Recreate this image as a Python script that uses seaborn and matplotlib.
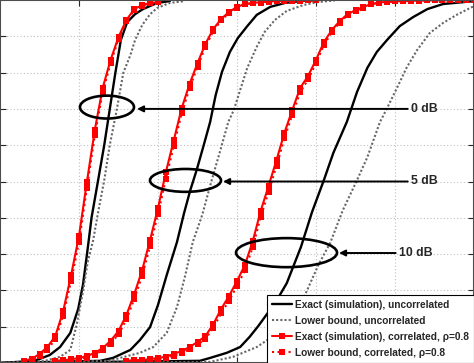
import numpy as np
import matplotlib
matplotlib.use("Agg")
import matplotlib.pyplot as plt
import seaborn as sns
from matplotlib.patches import Ellipse
from matplotlib.lines import Line2D

# ---- data (x in grid units 0..6, y is probability 0..1) ----
# exact (simulation), uncorrelated - black solid
ex_unc_0_x = [0.0, 0.44, 0.63, 0.76, 0.89, 0.99, 1.05, 1.10, 1.16, 1.24, 1.32, 1.39, 1.46, 1.53, 1.61, 1.71, 1.81, 1.99, 2.15]
ex_unc_0_y = [0.0, 0.006, 0.022, 0.044, 0.083, 0.149, 0.215, 0.298, 0.402, 0.501, 0.601, 0.700, 0.799, 0.890, 0.939, 0.961, 0.975, 0.992, 0.997]
ex_unc_5_x = [0.0, 1.27, 1.43, 1.65, 1.77, 1.90, 2.00, 2.11, 2.24, 2.33, 2.41, 2.49, 2.58, 2.66, 2.73, 2.81, 2.91, 3.01, 3.13, 3.25, 3.42, 3.61, 3.80, 4.05]
ex_unc_5_y = [0.0, 0.006, 0.014, 0.036, 0.063, 0.099, 0.160, 0.242, 0.333, 0.413, 0.477, 0.532, 0.601, 0.664, 0.738, 0.802, 0.857, 0.895, 0.928, 0.959, 0.981, 0.992, 0.997, 1.0]
ex_unc_10_x = [0.0, 2.53, 2.66, 2.87, 3.04, 3.16, 3.27, 3.39, 3.52, 3.63, 3.81, 3.95, 4.10, 4.22, 4.39, 4.52, 4.65, 4.77, 4.90, 5.06, 5.23, 5.41, 5.61, 5.86, 6.0]
ex_unc_10_y = [0.0, 0.006, 0.014, 0.028, 0.044, 0.072, 0.102, 0.138, 0.179, 0.220, 0.320, 0.416, 0.504, 0.579, 0.664, 0.747, 0.813, 0.857, 0.890, 0.928, 0.953, 0.975, 0.989, 0.994, 0.997]

# lower bound, uncorrelated - black dotted
lb_unc_0_x = [0.0, 0.57, 0.76, 0.89, 0.97, 1.05, 1.11, 1.18, 1.24, 1.32, 1.39, 1.48, 1.56, 1.65, 1.71, 1.80, 1.90, 1.99, 2.15, 2.34]
lb_unc_0_y = [0.0, 0.006, 0.017, 0.036, 0.105, 0.196, 0.278, 0.339, 0.413, 0.504, 0.601, 0.700, 0.799, 0.848, 0.890, 0.931, 0.961, 0.978, 0.992, 0.997]
lb_unc_5_x = [0.0, 1.39, 1.52, 1.77, 1.94, 2.11, 2.24, 2.34, 2.44, 2.56, 2.68, 2.78, 2.89, 2.96, 3.04, 3.13, 3.25, 3.35, 3.48, 3.63, 3.84, 4.01, 4.24]
lb_unc_5_y = [0.0, 0.006, 0.014, 0.028, 0.044, 0.083, 0.154, 0.237, 0.333, 0.408, 0.504, 0.579, 0.664, 0.697, 0.752, 0.813, 0.871, 0.912, 0.945, 0.970, 0.986, 0.994, 0.999]
lb_unc_10_x = [0.0, 2.66, 2.95, 3.25, 3.48, 3.67, 3.86, 4.03, 4.18, 4.34, 4.52, 4.65, 4.81, 4.90, 5.03, 5.15, 5.28, 5.44, 5.61, 5.78, 5.95, 6.0]
lb_unc_10_y = [0.0, 0.003, 0.017, 0.044, 0.077, 0.124, 0.187, 0.270, 0.331, 0.421, 0.504, 0.567, 0.664, 0.702, 0.760, 0.815, 0.862, 0.909, 0.937, 0.959, 0.978, 0.983]

# correlated (rho = 0.8) curves, sampled every 0.1
cor_0_x = np.round(np.arange(0.3, 2.0001, 0.1), 1)
ex_cor_0_y = [0.006, 0.011, 0.025, 0.044, 0.074, 0.143, 0.242, 0.350, 0.499, 0.642, 0.758, 0.835, 0.898, 0.945, 0.975, 0.986, 0.992, 0.994]
lb_cor_0_y = [0.004, 0.008, 0.020, 0.037, 0.065, 0.130, 0.226, 0.333, 0.482, 0.627, 0.746, 0.826, 0.892, 0.941, 0.972, 0.984, 0.991, 0.994]

cor_5_x = np.round(np.arange(0.7, 4.0001, 0.1), 1)
ex_cor_5_y = [0.006, 0.008, 0.010, 0.014, 0.019, 0.028, 0.041, 0.061, 0.088, 0.132, 0.190, 0.256, 0.339, 0.427,
              0.526, 0.614, 0.702, 0.769, 0.826, 0.879, 0.920, 0.948, 0.967, 0.981, 0.989, 0.992, 0.994, 0.996,
              0.997, 0.998, 0.998, 0.999, 0.999, 1.0]
lb_cor_5_y = [0.004, 0.006, 0.008, 0.011, 0.015, 0.023, 0.035, 0.053, 0.079, 0.120, 0.176, 0.241, 0.322, 0.410,
              0.508, 0.598, 0.688, 0.757, 0.816, 0.871, 0.914, 0.944, 0.964, 0.979, 0.988, 0.991, 0.993, 0.995,
              0.996, 0.997, 0.998, 0.998, 0.999, 1.0]

cor_10_x = np.round(np.arange(1.6, 6.0001, 0.1), 1)
ex_cor_10_y = [0.006, 0.008, 0.008, 0.011, 0.014, 0.017, 0.025, 0.033, 0.044, 0.058, 0.074, 0.107, 0.149, 0.185,
               0.226, 0.270, 0.336, 0.419, 0.488, 0.559, 0.634, 0.697, 0.758, 0.791, 0.835, 0.884, 0.917, 0.942,
               0.961, 0.972, 0.981, 0.989, 0.993, 0.995, 0.996, 0.997, 0.998, 0.998, 0.999, 0.999, 0.999, 1.0,
               1.0, 1.0, 1.0]
lb_cor_10_y = [0.004, 0.006, 0.006, 0.008, 0.011, 0.014, 0.020, 0.028, 0.038, 0.051, 0.066, 0.097, 0.137, 0.172,
               0.212, 0.255, 0.320, 0.402, 0.472, 0.543, 0.619, 0.684, 0.746, 0.781, 0.826, 0.876, 0.911, 0.938,
               0.958, 0.970, 0.979, 0.988, 0.992, 0.994, 0.996, 0.997, 0.997, 0.998, 0.999, 0.999, 0.999, 1.0,
               1.0, 1.0, 1.0]

legend_labels = ["Exact (simulation), uncorrelated",
                 "Lower bound, uncorrelated",
                 "Exact (simulation), correlated, ρ=0.8",
                 "Lower bound, correlated, ρ=0.8"]

# SNR annotations: label, ellipse centre / size, arrow tip, text position
snr_labels = ["0 dB", "5 dB", "10 dB"]
ell_center = [(1.354, 0.705), (2.348, 0.503), (3.627, 0.304)]
ell_size = [(0.684, 0.063), (0.899, 0.063), (1.278, 0.080)]
arrow_tip = [(1.734, 0.700), (2.823, 0.500), (4.291, 0.303)]
text_pos = [(5.203, 0.700), (5.203, 0.500), (5.05, 0.303)]

# ---- plotting ----
sns.set_style("ticks")
plt.rcParams["font.family"] = ["Liberation Sans", "DejaVu Sans"]

fig = plt.figure(figsize=(4.74, 3.63), dpi=100)
ax = fig.add_axes([0, 0, 1, 1])

black_kw = dict(color="black", lw=1.7, estimator=None, sort=False, ax=ax)
dot_kw = dict(color="0.4", lw=1.5, linestyle=(0, (1, 1)), estimator=None, sort=False, ax=ax)
red_kw = dict(color="red", lw=1.5, marker="s", markersize=4.0, markeredgewidth=0,
              estimator=None, sort=False, ax=ax)

for xs, ys in [(ex_unc_0_x, ex_unc_0_y), (ex_unc_5_x, ex_unc_5_y), (ex_unc_10_x, ex_unc_10_y)]:
    sns.lineplot(x=xs, y=ys, **black_kw)
for xs, ys in [(lb_unc_0_x, lb_unc_0_y), (lb_unc_5_x, lb_unc_5_y), (lb_unc_10_x, lb_unc_10_y)]:
    sns.lineplot(x=xs, y=ys, **dot_kw)
for xs, ys in [(cor_0_x, lb_cor_0_y), (cor_5_x, lb_cor_5_y), (cor_10_x, lb_cor_10_y)]:
    sns.lineplot(x=xs, y=ys, linestyle=":", **red_kw)
for xs, ys in [(cor_0_x, ex_cor_0_y), (cor_5_x, ex_cor_5_y), (cor_10_x, ex_cor_10_y)]:
    sns.lineplot(x=xs, y=ys, **red_kw)

ax.set_xlim(0, 6)
ax.set_ylim(0, 1)
ax.set_xticks([1, 2, 3, 4, 5])
ax.set_yticks(np.arange(0.1, 1.0, 0.1))
ax.grid(True, color="0.75", linestyle=(0, (1, 2)), lw=0.8)
ax.tick_params(direction="in", length=4, width=0.8, top=True, right=True,
               labelbottom=False, labelleft=False)
for s in ax.spines.values():
    s.set_linewidth(1.5)
    s.set_color("0.3")

for lab, c, sz, tip, tp in zip(snr_labels, ell_center, ell_size, arrow_tip, text_pos):
    ax.add_patch(Ellipse(c, sz[0], sz[1], fill=False, ec="black", lw=1.9, zorder=5))
    ax.annotate(lab, xy=tip, xytext=tp, ha="left", va="center", fontsize=8.8,
                fontweight="bold", zorder=6,
                arrowprops=dict(arrowstyle="-|>", color="black", lw=1.4,
                                mutation_scale=9, shrinkA=0, shrinkB=0))

handles = [Line2D([], [], color="black", lw=1.7),
           Line2D([], [], color="0.4", lw=1.5, linestyle=(0, (1, 1))),
           Line2D([], [], color="red", lw=1.5, marker="s", markersize=4.0, markeredgewidth=0),
           Line2D([], [], color="red", lw=1.5, linestyle=":", marker="s", markersize=4.0, markeredgewidth=0)]
leg = ax.legend(handles, legend_labels, loc="lower right", borderaxespad=0.0,
                fancybox=False, framealpha=1, edgecolor="black",
                prop=dict(size=7.3, weight="bold"), handlelength=2.0,
                handletextpad=0.3, labelspacing=0.6, borderpad=0.5)
leg.get_frame().set_linewidth(0.8)
leg.set_zorder(10)

fig.savefig("out.png", dpi=100)
